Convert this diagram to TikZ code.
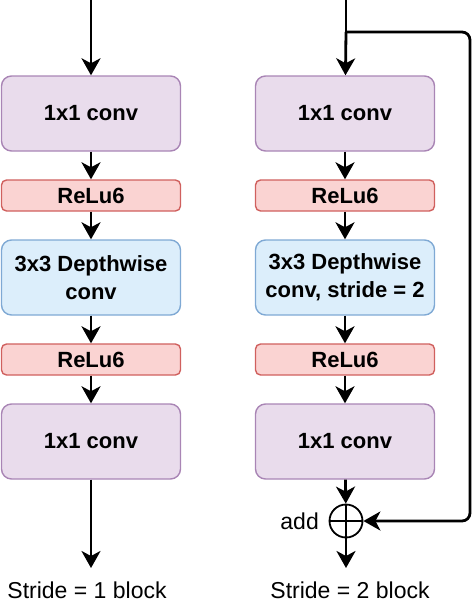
\documentclass[tikz,border=0pt]{standalone}
\usepackage{fontspec}
\setmainfont{Liberation Sans}
\usetikzlibrary{arrows.meta}
\definecolor{purpfill}{HTML}{E9DCEC}
\definecolor{purpline}{HTML}{A985B5}
\definecolor{redfill}{HTML}{FAD3D2}
\definecolor{redline}{HTML}{D0605E}
\definecolor{bluefill}{HTML}{DCEEFB}
\definecolor{blueline}{HTML}{7FA9D4}
\begin{document}
\begin{tikzpicture}[x=1pt,y=-1pt,
  box/.style={draw, line width=1.4pt, rounded corners=10pt, minimum width=179pt, inner sep=0pt, align=center,
     font=\fontsize{22}{28}\selectfont\bfseries},
  convbox/.style={box, fill=purpfill, draw=purpline, minimum height=75pt},
  relubox/.style={box, fill=redfill, draw=redline, minimum height=31pt, rounded corners=5pt},
  dwbox/.style={box, fill=bluefill, draw=blueline, minimum height=75pt},
  flow/.style={line width=2.8pt, -{Stealth[length=17pt,width=19pt,inset=5pt]}},
  lab/.style={font=\fontsize{23}{26}\selectfont, inner sep=0pt}]
\useasboundingbox (0,0) rectangle (474,602);
% left column
\coordinate (lin) at (91,0);
\node[convbox] (l1) at (91,113.5) {1x1 conv};
\node[relubox] (l2) at (91,195.5) {ReLu6};
\node[dwbox] (l3) at (91,277.5) {3x3 Depthwise\\conv};
\node[relubox] (l4) at (91,359.5) {ReLu6};
\node[convbox] (l5) at (91,441.5) {1x1 conv};
\coordinate (lout) at (91,568);
\node[lab, anchor=base] (lt) at (87,598) {Stride = 1 block};
\draw[flow] (lin) -- (l1);
\draw[flow] (l1) -- (l2);
\draw[flow] (l2) -- (l3);
\draw[flow] (l3) -- (l4);
\draw[flow] (l4) -- (l5);
\draw[flow] (l5) -- (lout);
% right column
\coordinate (rin) at (346,0);
\coordinate (split) at (346,32);
\node[convbox] (r1) at (345,113.5) {1x1 conv};
\node[relubox] (r2) at (345,195.5) {ReLu6};
\node[dwbox] (r3) at (345,277.5) {3x3 Depthwise\\conv, stride = 2};
\node[relubox] (r4) at (345,359.5) {ReLu6};
\node[convbox] (r5) at (345,441.5) {1x1 conv};
\node[circle, draw, line width=1.8pt, minimum size=33pt, inner sep=0pt, fill=white] (add) at (346,521) {};
\draw[line width=1.8pt] (add.north) -- (add.south) (add.west) -- (add.east);
\node[lab, anchor=east] (addl) at (319,521) {add};
\coordinate (rout) at (346,568);
\node[lab, anchor=base] (rt) at (350,598) {Stride = 2 block};
\draw[line width=2.8pt] (rin) -- (split);
\draw[flow] (split) -- (r1);
\draw[flow] (r1) -- (r2);
\draw[flow] (r2) -- (r3);
\draw[flow] (r3) -- (r4);
\draw[flow] (r4) -- (r5);
\draw[flow] (r5) -- (add);
\draw[flow] (add) -- (rout);
\draw[flow, rounded corners=8pt] (split) -- (470,32) -- (470,521) -- (add.east);
\end{tikzpicture}
\end{document}
